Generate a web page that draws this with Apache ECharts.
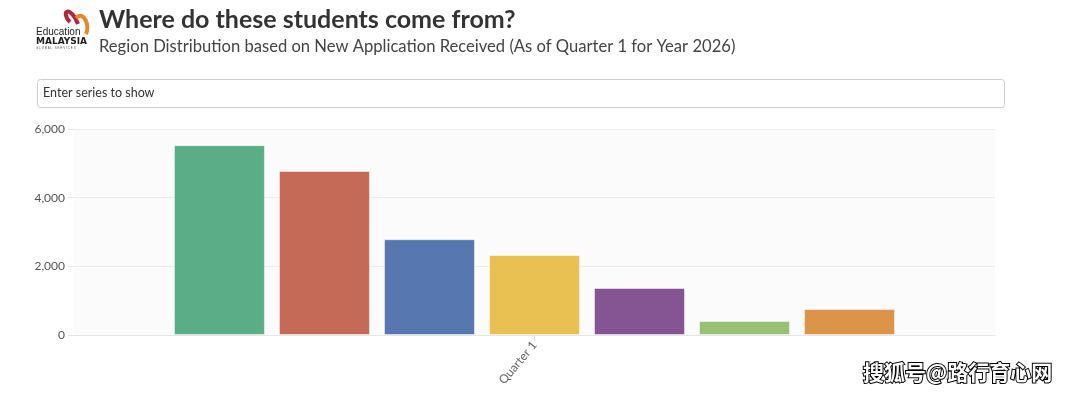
<!DOCTYPE html>
<html>
<head>
<meta charset="utf-8">
<script src="https://cdn.jsdelivr.net/npm/echarts@6/dist/echarts.min.js"></script>
<style>
  html, body { margin: 0; padding: 0; background: #ffffff; }
  #chart { width: 1080px; height: 395px; }
</style>
</head>
<body>
<div id="chart"></div>
<script>
// one category, one bar per region
const categories = ['Quarter 1'];
const regionNames = ['Region A', 'Region B', 'Region C', 'Region D', 'Region E', 'Region F', 'Region G'];
const regionValues = [5530, 4780, 2790, 2330, 1370, 410, 760];
const regionColors = ['#5bad88', '#c46a57', '#5677b0', '#e9c052', '#845493', '#99c077', '#dc934a'];
const yTicks = [0, 2000, 4000, 6000];

const chart = echarts.init(document.getElementById('chart'), null, { renderer: 'canvas' });

const font = 'Lato, "Open Sans", sans-serif';

var series = regionNames.map(function (name, i) {
  return {
    name: name,
    type: 'bar',
    data: [regionValues[i]],
    barWidth: 91,
    barGap: '15.4%',
    itemStyle: {
      color: regionColors[i],
      borderColor: 'rgba(255,255,255,0.5)',
      borderWidth: 1
    }
  };
});

var option = {
  backgroundColor: '#ffffff',
  animation: false,
  textStyle: { fontFamily: font },
  grid: {
    left: 74, right: 85, top: 129, bottom: 60,
    show: true, backgroundColor: '#fbfbfb', borderWidth: 0
  },
  xAxis: {
    type: 'category',
    data: categories,
    axisLine: { show: true, lineStyle: { color: '#e6e6e6' } },
    axisTick: { show: true, alignWithLabel: true, length: 6, lineStyle: { color: '#e0e0e0' } },
    axisLabel: { rotate: 50, color: '#666', fontSize: 12, fontFamily: font, margin: 8 }
  },
  yAxis: {
    type: 'value',
    min: 0, max: yTicks[yTicks.length - 1], interval: 2000,
    axisLine: { show: false },
    axisTick: { show: true, length: 6, lineStyle: { color: '#e6e6e6' } },
    splitLine: { lineStyle: { color: '#ececec' } },
    axisLabel: {
      color: '#555', fontSize: 12, fontFamily: font, margin: 9,
      formatter: function (v) { return v.toLocaleString('en-US'); }
    }
  },
  graphic: [
    // logo mark
    { type: 'bezierCurve', shape: { x1: 70, y1: 22, cpx1: 60, cpy1: 12, cpx2: 70, cpy2: 4, x2: 78, y2: 24 },
      style: { fill: null, stroke: '#b5223b', lineWidth: 4 } },
    { type: 'bezierCurve', shape: { x1: 76, y1: 18, cpx1: 84, cpy1: 10, cpx2: 90, cpy2: 26, x2: 86, y2: 34 },
      style: { fill: null, stroke: '#e8862a', lineWidth: 4 } },
    { type: 'text', left: 36, top: 27, style: { text: 'Education', fontSize: 10, fontFamily: '"Liberation Sans Narrow", "Liberation Sans", sans-serif', fill: '#222' } },
    { type: 'text', left: 36, top: 37, style: { text: 'MALAYSIA', fontSize: 9, fontWeight: 'bold', fontFamily: '"DejaVu Sans", sans-serif', fill: '#222' } },
    { type: 'text', left: 36, top: 47, style: { text: 'G L O B A L   S E R V I C E S', fontSize: 3, fontFamily: 'sans-serif', fill: '#555' } },
    // titles
    { type: 'text', left: 99, top: 7, style: { text: 'Where do these students come from?', fontSize: 25, fontWeight: 'bold', fontFamily: font, fill: '#333' } },
    { type: 'text', left: 99, top: 38, style: { text: 'Region Distribution based on New Application Received (As of Quarter 1 for Year 2026)', fontSize: 16.6, fontFamily: font, fill: '#444' } },
    // series filter box
    { type: 'rect', shape: { x: 37.5, y: 79.5, width: 967, height: 28, r: 3 },
      style: { fill: '#fff', stroke: '#cccccc', lineWidth: 1 } },
    { type: 'text', left: 43, top: 86, style: { text: 'Enter series to show', fontSize: 12.5, fontFamily: font, fill: '#333' } },
    // watermark
    { type: 'text', left: 862, top: 361, style: { text: '搜狐号@路行育心网', fontSize: 21, fontWeight: 'bold', fontFamily: '"Noto Sans CJK SC", sans-serif', fill: '#fff', stroke: '#000', lineWidth: 2 } }
  ],
  series: series
};

chart.setOption(option);
</script>
</body>
</html>
